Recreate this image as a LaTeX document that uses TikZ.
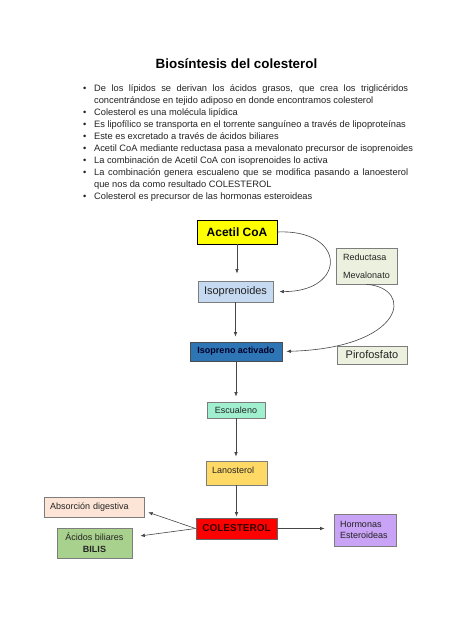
\documentclass[tikz,border=0pt]{standalone}
\usepackage{fontspec}
\setmainfont{Liberation Sans}
\usetikzlibrary{arrows.meta}

\begin{document}
\begin{tikzpicture}[x=1pt, y=-1pt,
        box/.style={draw=boxline, line width=0.7pt, inner sep=0pt, text=textdark, font=\fontsize{9}{11}\selectfont},
        arr/.style={draw=arrline, line width=0.6pt, -{Latex[length=4.5pt,width=3.5pt]}}]
    % Define colors
    \definecolor{boxline}{RGB}{125,125,125}
    \definecolor{arrline}{RGB}{70,70,70}
    \definecolor{textdark}{RGB}{35,35,35}
    \definecolor{acetil}{RGB}{255,255,0}
    \definecolor{isoblue}{RGB}{197,217,241}
    \definecolor{palegreen}{RGB}{235,241,222}
    \definecolor{darkblue}{RGB}{46,117,182}
    \definecolor{mint}{RGB}{160,240,208}
    \definecolor{gold}{RGB}{255,217,102}
    \definecolor{peach}{RGB}{252,229,214}
    \definecolor{leaf}{RGB}{169,209,142}
    \definecolor{lilac}{RGB}{201,163,245}

    % Page size and background
    \path[fill=white, use as bounding box] (0,0) rectangle (474,632);

    % Title and the list of points
    \node[font=\bfseries\fontsize{13.4}{16}\selectfont] (title) at (236.5,64) {Biosíntesis del colesterol};
    \node[anchor=base west, inner sep=0pt, text=textdark, font=\fontsize{9.3}{12.1}\selectfont] (points) at (83,91) {%
        \begin{tabular}[t]{@{}l@{\hspace{7.7pt}}l@{}}
            \textbullet & \makebox[314pt][s]{De los lípidos se derivan los ácidos grasos, que crea los triglicéridos} \\
                        & concentrándose en tejido adiposo en donde encontramos colesterol \\
            \textbullet & Colesterol es una molécula lipídica \\
            \textbullet & Es lipofílico se transporta en el torrente sanguíneo a través de lipoproteínas \\
            \textbullet & Este es excretado a través de ácidos biliares \\
            \textbullet & Acetil CoA mediante reductasa pasa a mevalonato precursor de isoprenoides \\
            \textbullet & La combinación de Acetil CoA con isoprenoides lo activa \\
            \textbullet & \makebox[314pt][s]{La combinación genera escualeno que se modifica pasando a lanoesterol} \\
                        & que nos da como resultado COLESTEROL \\
            \textbullet & Colesterol es precursor de las hormonas esteroideas
        \end{tabular}};

    % Boxes of the pathway
    \node[box, fill=acetil, draw=black, line width=0.9pt, text=black, minimum width=80pt, minimum height=24pt, font=\bfseries\fontsize{12}{14}\selectfont] (acetil) at (237,232) {Acetil CoA};
    \node[box, fill=isoblue, minimum width=75pt, minimum height=21pt, font=\fontsize{11}{13}\selectfont] (isoprenoides) at (235.5,291.5) {Isoprenoides};
    \node[box, fill=palegreen, minimum width=61pt, minimum height=36pt, align=left, font=\fontsize{9}{18}\selectfont] (reductasa) at (366.5,266) {Reductasa\\Mevalonato};
    \node[box, fill=darkblue, draw=black!70, text=black!85!blue, minimum width=92pt, minimum height=19pt, font=\bfseries\fontsize{9}{11}\selectfont] (activado) at (236,351.5) {Isopreno activado};
    \node[box, fill=palegreen, minimum width=70pt, minimum height=18pt, font=\fontsize{11}{13}\selectfont] (pirofosfato) at (372,355) {Pirofosfato};
    \node[box, fill=mint, minimum width=58pt, minimum height=16pt] (escualeno) at (236,410) {Escualeno};
    \node[box, fill=gold, minimum width=61pt, minimum height=24pt, text width=49pt, text depth=6pt, align=left] (lanosterol) at (236.5,473) {Lanosterol};
    \node[box, fill=red, draw=black!60, text=black!80!red, minimum width=81pt, minimum height=21pt, font=\bfseries\fontsize{10}{12}\selectfont] (colesterol) at (236.5,528.5) {COLESTEROL};
    \node[box, fill=peach, minimum width=100pt, minimum height=20pt, text width=88pt, align=left] (absorcion) at (94,507) {Absorción digestiva};
    \node[box, fill=leaf, minimum width=75pt, minimum height=30pt, align=center, font=\fontsize{9}{12}\selectfont] (acidos) at (94.5,543) {Ácidos biliares\\\textbf{BILIS}};
    \node[box, fill=lilac, minimum width=62pt, minimum height=32pt, text width=50pt, align=left, font=\fontsize{9}{11.5}\selectfont] (hormonas) at (365,530) {Hormonas\\Esteroideas};

    % Arrows down the pathway
    \draw[arr, shorten >=7pt] (acetil.south) -- (acetil.south |- isoprenoides.north);
    \draw[arr, shorten >=5pt] (isoprenoides.south) -- (isoprenoides.south |- activado.north);
    \draw[arr, shorten >=5pt] (activado.south) -- (activado.south |- escualeno.north);
    \draw[arr, shorten >=4pt] (escualeno.south) -- (escualeno.south |- lanosterol.north);
    \draw[arr, shorten >=1pt] (lanosterol.south) -- (lanosterol.south |- colesterol.north);

    % Curved arrows from the side
    \draw[arr, shorten >=6pt] (acetil.east) .. controls (347,229) and (347,292) .. (isoprenoides.east);
    \draw[arr, shorten >=4pt] (reductasa.south) .. controls (415,288) and (405,348) .. (activado.east);

    % Arrows out of colesterol
    \draw[arr, shorten >=4pt] (colesterol.west) -- ([yshift=-4pt]absorcion.east);
    \draw[arr, shorten >=8pt] (colesterol.west) -- ([yshift=6pt]acidos.east);
    \draw[arr, shorten >=9pt] (colesterol.east) -- (colesterol.east -| hormonas.west);

\end{tikzpicture}
\end{document}
